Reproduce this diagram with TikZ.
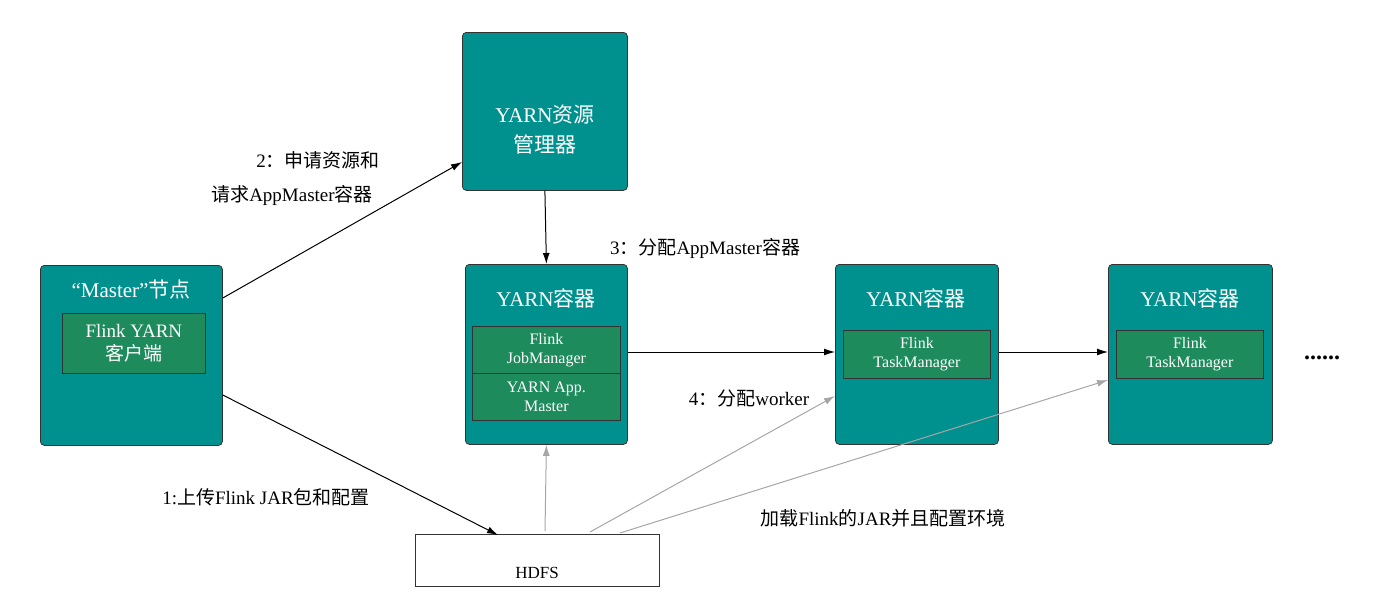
\documentclass[tikz,border=0pt]{standalone}
\usepackage{fontspec}
\setmainfont{Liberation Serif}
\newfontfamily\cjk{Noto Sans CJK SC}
\usetikzlibrary{shapes.geometric,arrows.meta}
\definecolor{teal1}{HTML}{00918F}
\definecolor{green1}{HTML}{1E8B5C}
\begin{document}
\begin{tikzpicture}[x=1pt,y=-1pt,
 box/.style={draw=black!80,fill=teal1,rounded corners=4pt,line width=0.8pt},
 inner/.style={draw=black!80,fill=green1,line width=0.8pt},
 wt/.style={text=white,align=center,inner sep=0pt},
 arr/.style={-{Latex[length=11pt,width=7pt]},line width=1pt},
 garr/.style={-{Latex[length=11pt,width=7pt]},line width=1pt,draw=black!35},
 lbl/.style={font=\fontsize{19}{22}\selectfont,inner sep=0pt,align=center}]
\useasboundingbox (0,0) rectangle (1383,597);
% boxes
\node[box,minimum width=182pt,minimum height=180pt,anchor=north west] (m) at (40,265) {};
\node[wt,font=\fontsize{21}{24}\selectfont] (mt) at (131,290) {“Master”{\cjk 节点}};
\node[inner,minimum width=143pt,minimum height=60pt,anchor=north west] (mi) at (62,313) {};
\node[wt,font=\fontsize{19}{23}\selectfont] (mit) at (mi.center) {Flink YARN\\{\cjk 客户端}};

\node[box,minimum width=165pt,minimum height=158pt,anchor=north west] (rm) at (462,32) {};
\node[wt,font=\fontsize{21}{30}\selectfont] (rmt) at (545,130) {YARN{\cjk 资源}\\{\cjk 管理器}};

\node[box,minimum width=162pt,minimum height=180pt,anchor=north west] (c1) at (465,264) {};
\node[wt,font=\fontsize{21}{24}\selectfont] (c1t) at (546,298) {YARN{\cjk 容器}};
\node[inner,minimum width=148pt,minimum height=47pt,anchor=north west] (jm) at (472,326) {};
\node[inner,minimum width=148pt,minimum height=47pt,anchor=north west] (am) at (472,373) {};
\node[wt,font=\fontsize{16}{19}\selectfont] at (jm.center) {Flink\\JobManager};
\node[wt,font=\fontsize{16}{19}\selectfont] at (am.center) {YARN App.\\Master};

\node[box,minimum width=163pt,minimum height=180pt,anchor=north west] (c2) at (835,264) {};
\node[wt,font=\fontsize{21}{24}\selectfont] (c2t) at (916,298) {YARN{\cjk 容器}};
\node[inner,minimum width=147pt,minimum height=48pt,anchor=north west] (tm2) at (843,330) {};
\node[wt,font=\fontsize{16}{19}\selectfont] at (tm2.center) {Flink\\TaskManager};

\node[box,minimum width=164pt,minimum height=180pt,anchor=north west] (c3) at (1108,264) {};
\node[wt,font=\fontsize{21}{24}\selectfont] (c3t) at (1190,298) {YARN{\cjk 容器}};
\node[inner,minimum width=147pt,minimum height=48pt,anchor=north west] (tm3) at (1116,330) {};
\node[wt,font=\fontsize{16}{19}\selectfont] at (tm3.center) {Flink\\TaskManager};

\node[lbl,font=\fontsize{24}{24}\selectfont\bfseries] (dots) at (1322,358) {......};

% HDFS cylinder
\node[cylinder,shape border rotate=90,draw=black!80,fill=white,line width=0.8pt,
  minimum width=244pt,minimum height=52pt,aspect=8,inner sep=0pt] (h) at (537,561) {};
\node[lbl,font=\fontsize{17}{20}\selectfont] at (537,573) {HDFS};
\coordinate (h1) at (545,531);
\coordinate (h2) at (590,532);
\coordinate (h3) at (620,533);

% arrows
\draw[arr] (m.east |- 0,298) -- (rm.west |- 0,162);
\draw[arr] (m.east |- 0,395) -- (498,535);
\draw[arr] (rm.south) -- (c1.north);
\draw[arr] (c1.east |- 0,352) -- (c2.west |- 0,352);
\draw[arr] (c2.east |- 0,352) -- (c3.west |- 0,352);
\draw[garr] (h1) -- (c1.south);
\draw[garr] (h2) -- (c2.west |- 0,396);
\draw[garr] (h3) -- (c3.west |- 0,380);

% labels
\node[lbl] at (318,160) {2{\cjk ：申请资源和}};
\node[lbl] at (292,195) {{\cjk 请求}AppMaster{\cjk 容器}};
\node[lbl] at (705,248) {3{\cjk ：分配}AppMaster{\cjk 容器}};
\node[lbl] at (749,398) {4{\cjk ：分配}worker};
\node[lbl] at (266,497) {1:{\cjk 上传}Flink JAR{\cjk 包和配置}};
\node[lbl] at (883,518) {{\cjk 加载}Flink{\cjk 的}JAR{\cjk 并且配置环境}};
\end{tikzpicture}
\end{document}
